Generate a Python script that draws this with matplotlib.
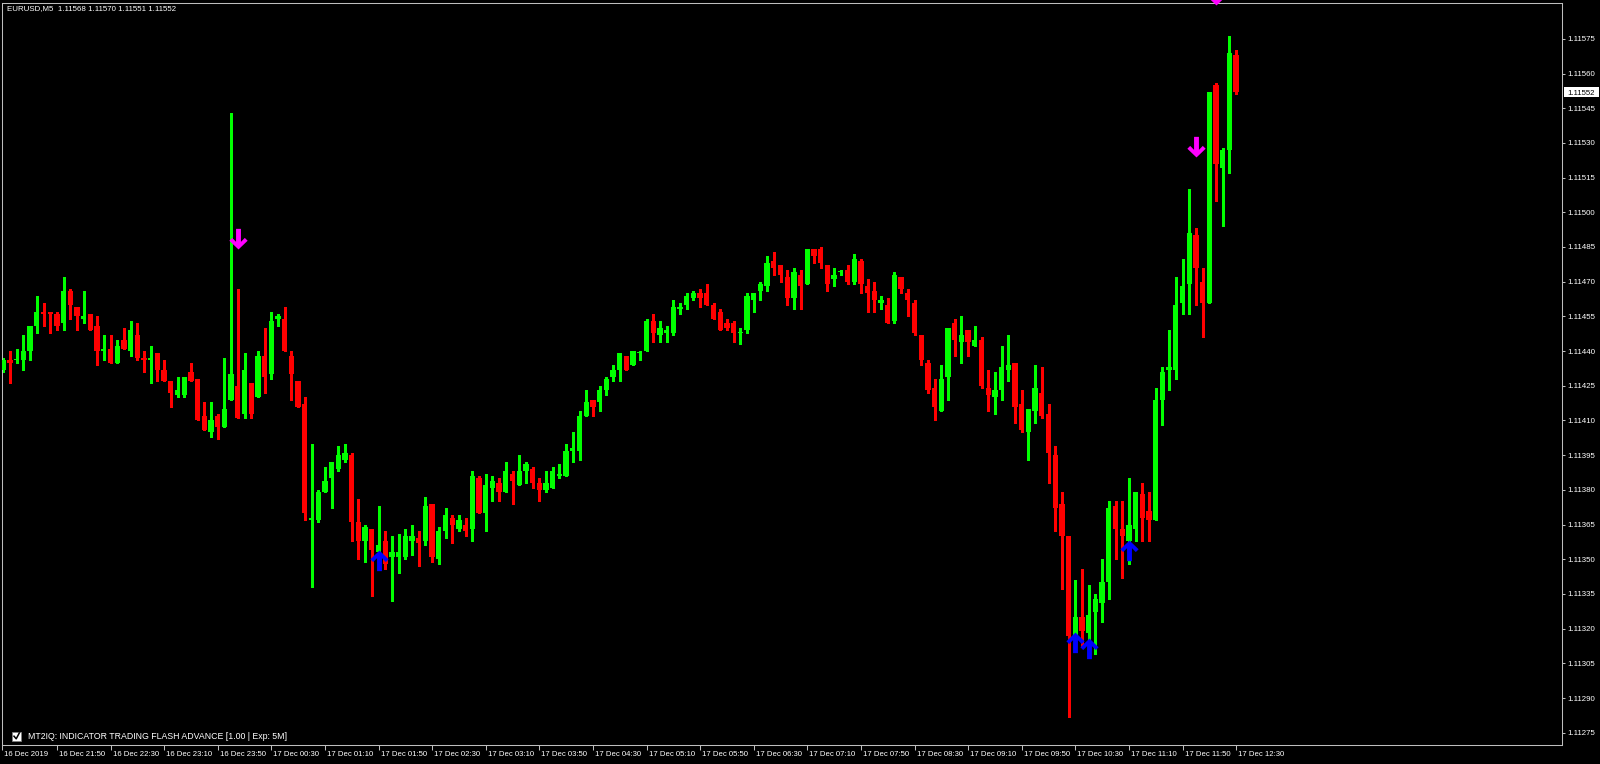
import numpy as np
import matplotlib
matplotlib.use('Agg')
import matplotlib.pyplot as plt
from matplotlib.path import Path
from matplotlib.patches import Rectangle
from matplotlib.lines import Line2D
import matplotlib.transforms as mtransforms

# ---------------- data (EURUSD M5, values in points above 1.11000) ----------------
BASE = 1.11000
PT = 0.00001

open_pts = [432, 436, 436, 436, 440, 451, 457, 457, 456, 452, 466, 459, 454, 456, 451, 440, 441, 435, 445, 440,
            447, 437, 436, 439, 432, 427, 421, 421, 431, 428, 412, 405, 412, 407, 419, 425, 413, 426, 420, 438,
            430, 454, 454, 438, 427, 417, 367, 367, 379, 385, 389, 393, 395, 366, 358, 363, 353, 358, 351, 351,
            351, 358, 359, 358, 374, 350, 362, 368, 363, 365, 363, 385, 370, 381, 383, 379, 387, 382, 388, 389,
            383, 380, 381, 386, 386, 397, 397, 412, 419, 418, 423, 429, 432, 438, 434, 439, 440, 453, 447, 448,
            448, 458, 460, 463, 465, 465, 460, 457, 452, 452, 448, 449, 462, 466, 468, 479, 477, 472, 463, 473,
            469, 484, 484, 477, 471, 474, 475, 470, 479, 468, 466, 461, 460, 453, 472, 465, 461, 447, 435, 424,
            414, 429, 452, 444, 449, 442, 445, 424, 420, 423, 432, 435, 417, 405, 414, 422, 413, 395, 374, 360,
            317, 325, 318, 327, 331, 340, 373, 363, 358, 363, 378, 371, 367, 419, 432, 432, 461, 469, 490, 470,
            461, 555, 519, 527, 568]
high_pts = [437, 440, 441, 447, 451, 464, 461, 457, 457, 472, 467, 459, 466, 456, 455, 447, 447, 445, 450, 453,
            452, 440, 442, 439, 436, 427, 429, 429, 435, 428, 418, 418, 413, 437, 543, 467, 439, 426, 440, 450,
            457, 456, 459, 440, 427, 420, 400, 380, 390, 392, 399, 400, 396, 376, 365, 363, 373, 362, 360, 361,
            363, 365, 362, 377, 374, 364, 372, 369, 369, 368, 388, 386, 387, 386, 385, 392, 388, 395, 392, 390,
            385, 388, 390, 391, 400, 405, 414, 423, 419, 425, 429, 434, 439, 438, 440, 440, 454, 456, 453, 451,
            462, 461, 465, 466, 467, 469, 461, 458, 454, 453, 450, 465, 465, 470, 481, 483, 477, 475, 476, 475,
            484, 484, 485, 477, 476, 475, 477, 482, 480, 471, 470, 464, 463, 474, 472, 467, 462, 447, 436, 428,
            434, 450, 454, 455, 449, 451, 446, 432, 431, 442, 447, 435, 423, 415, 434, 433, 417, 399, 379, 360,
            341, 346, 339, 335, 350, 375, 375, 375, 385, 379, 383, 379, 424, 433, 449, 472, 480, 510, 493, 476,
            552, 556, 528, 576, 570]
low_pts = [431, 426, 435, 432, 436, 448, 451, 448, 449, 449, 454, 449, 452, 449, 434, 436, 435, 435, 441, 438,
           436, 431, 426, 427, 427, 416, 420, 420, 427, 410, 406, 403, 402, 407, 419, 411, 411, 411, 420, 422,
           428, 451, 440, 419, 416, 367, 338, 366, 379, 372, 388, 392, 358, 350, 349, 334, 347, 346, 332, 344,
           350, 352, 347, 356, 349, 348, 359, 357, 362, 360, 358, 370, 362, 375, 375, 379, 374, 382, 383, 381,
           375, 379, 381, 385, 386, 392, 393, 412, 412, 414, 421, 427, 427, 432, 434, 436, 440, 444, 444, 444,
           447, 456, 458, 462, 459, 460, 454, 449, 449, 444, 443, 448, 457, 462, 466, 473, 470, 460, 458, 458,
           469, 478, 476, 466, 468, 473, 469, 469, 465, 457, 457, 458, 452, 452, 465, 455, 447, 434, 422, 410,
           414, 419, 438, 435, 438, 442, 424, 414, 413, 419, 427, 409, 405, 393, 409, 411, 383, 362, 337, 282,
           314, 312, 311, 309, 323, 333, 350, 342, 348, 358, 358, 358, 367, 408, 423, 428, 456, 456, 460, 446,
           461, 505, 494, 517, 551]
close_pts = [436, 435, 436, 440, 451, 457, 456, 456, 451, 466, 460, 455, 455, 449, 440, 441, 435, 442, 441, 449,
             437, 436, 437, 432, 427, 422, 423, 429, 427, 410, 406, 410, 407, 415, 430, 411, 432, 413, 438, 429,
             453, 455, 440, 430, 416, 370, 368, 379, 384, 392, 395, 396, 366, 358, 364, 354, 356, 348, 353, 353,
             360, 360, 357, 373, 351, 362, 369, 365, 367, 362, 386, 370, 382, 384, 379, 388, 384, 388, 391, 383,
             380, 383, 388, 387, 397, 398, 412, 418, 416, 423, 428, 432, 439, 432, 440, 439, 453, 448, 450, 449,
             459, 459, 464, 465, 463, 460, 454, 449, 450, 448, 448, 464, 465, 469, 478, 476, 473, 463, 474, 468,
             484, 481, 478, 469, 473, 474, 470, 480, 469, 465, 462, 462, 452, 473, 467, 462, 448, 436, 423, 416,
             428, 450, 445, 447, 444, 445, 425, 421, 423, 433, 434, 416, 406, 415, 424, 412, 396, 372, 360, 317,
             325, 319, 326, 333, 340, 372, 363, 360, 365, 379, 368, 367, 419, 431, 433, 460, 468, 491, 476, 461,
             552, 521, 527, 569, 552]

opens = BASE + np.array(open_pts) * PT
highs = BASE + np.array(high_pts) * PT
lows = BASE + np.array(low_pts) * PT
closes = BASE + np.array(close_pts) * PT

# signal arrows: (bar index, price level of arrow centre)
sell_bars = [35, 178, 181]
sell_levels = [1.114889, 1.115288, 1.115942]
buy_bars = [56, 160, 162, 168]
buy_levels = [1.113493, 1.113140, 1.113114, 1.113536]

tick_bars = [-0.15, 8, 16, 24, 32, 40, 48, 56, 64, 72, 80, 88, 96, 104, 112, 120, 128, 136, 144, 152,
             160, 168, 176, 184]
tick_labels = ["16 Dec 2019", "16 Dec 21:50", "16 Dec 22:30", "16 Dec 23:10", "16 Dec 23:50",
               "17 Dec 00:30", "17 Dec 01:10", "17 Dec 01:50", "17 Dec 02:30", "17 Dec 03:10",
               "17 Dec 03:50", "17 Dec 04:30", "17 Dec 05:10", "17 Dec 05:50", "17 Dec 06:30",
               "17 Dec 07:10", "17 Dec 07:50", "17 Dec 08:30", "17 Dec 09:10", "17 Dec 09:50",
               "17 Dec 10:30", "17 Dec 11:10", "17 Dec 11:50", "17 Dec 12:30"]
price_ticks = [1.11275, 1.11290, 1.11305, 1.11320, 1.11335, 1.11350, 1.11365, 1.11380, 1.11395, 1.11410,
               1.11425, 1.11440, 1.11455, 1.11470, 1.11485, 1.11500, 1.11515, 1.11530, 1.11545, 1.11560,
               1.11575]
header = "EURUSD,M5  1.11568 1.11570 1.11551 1.11552"
footer = "MT2IQ: INDICATOR TRADING FLASH ADVANCE [1.00 | Exp: 5M]"
last_price = 1.11552

# ---------------- figure ----------------
FONT = 'Liberation Sans'
W, H = 1600, 764
fig = plt.figure(figsize=(W / 100, H / 100), dpi=100, facecolor='black')
ax = fig.add_axes([2 / W, (H - 745) / H, 1560 / W, 742 / H], facecolor='black')

idx = np.arange(len(opens))
bull = closes >= opens
cols = np.where(bull, '#00FF00', '#FF0000')

ax.vlines(idx, lows, highs, colors=cols, linewidth=0.75, antialiased=False, zorder=2)
bottoms = np.minimum(opens, closes)
heights = np.maximum(np.abs(closes - opens), 0.0000045)
ax.bar(idx, heights, bottom=bottoms, width=0.78, color=cols, linewidth=0, antialiased=False, zorder=3)

# arrow markers (thick stem + chevron head)
down_v = [(-2.4, 9.5), (2.4, 9.5), (2.4, -3.3), (6.2, 0.6), (9.0, -2.2), (0, -10.8), (-9.0, -2.2),
          (-6.2, 0.6), (-2.4, -3.3), (-2.4, 9.5)]
codes = [Path.MOVETO] + [Path.LINETO] * 8 + [Path.CLOSEPOLY]
down_path = Path(down_v, codes)
up_path = Path([(x, -y) for x, y in down_v], codes)
ax.plot(sell_bars, sell_levels, linestyle='none', marker=down_path, markersize=15.8,
        color='#FF00FF', markeredgewidth=0, clip_on=False, zorder=5)
ax.plot(buy_bars, buy_levels, linestyle='none', marker=up_path, markersize=15.8,
        color='#0000FF', markeredgewidth=0, zorder=5)

# limits (pixel-calibrated)
ax.set_xlim(-0.194, 232.64)
ax.set_ylim(BASE + 269.7 * PT, BASE + 590.48 * PT)

# spines
for s in ax.spines.values():
    s.set_color('#BEBEBE')
    s.set_linewidth(0.75)

# y axis on right
ax.yaxis.tick_right()
ax.set_yticks(price_ticks)
ax.set_yticklabels([f"{p:.5f}" for p in price_ticks])
ax.tick_params(axis='y', direction='out', length=2.4, width=0.75, color='#BEBEBE',
               labelcolor='white', labelsize=5.7, pad=1.5)
for lab in ax.get_yticklabels():
    lab.set_fontfamily(FONT)

# x axis
ax.set_xticks(tick_bars)
ax.set_xticklabels(tick_labels)
ax.tick_params(axis='x', direction='out', length=3.3, width=0.75, color='#BEBEBE',
               labelcolor='white', labelsize=5.6, pad=1.0)
offset = mtransforms.ScaledTranslation(2 / 100, 0, fig.dpi_scale_trans)
for lab in ax.get_xticklabels():
    lab.set_fontfamily(FONT)
    lab.set_horizontalalignment('left')
    lab.set_transform(lab.get_transform() + offset)

# current price box
trans = mtransforms.blended_transform_factory(fig.transFigure, ax.transData)
ax.add_patch(Rectangle((1564 / W, last_price - 2.1 * PT), 35 / W, 4.2 * PT, transform=trans,
                       facecolor='white', edgecolor='none', clip_on=False, zorder=6))
ax.text(1567.5 / W, last_price, f"{last_price:.5f}", transform=trans, color='black',
        fontsize=5.6, family=FONT, ha='left', va='center_baseline', clip_on=False, zorder=7)

# header text
fig.text(6.7 / W, 1 - 9 / H, header, color='white', fontsize=5.7, family=FONT,
         ha='left', va='center')

# checkbox + footer
fig.patches.append(Rectangle((12.0 / W, (H - 741) / H), 9 / W, 9 / H, transform=fig.transFigure,
                             facecolor='white', edgecolor='#808080', linewidth=0.6, figure=fig))
fig.lines.append(Line2D([14.0 / W, 16.2 / W, 19.3 / W],
                        [(H - 736.2) / H, (H - 738.8) / H, (H - 733.0) / H],
                        transform=fig.transFigure, color='black', linewidth=1.1, figure=fig))
fig.text(28.3 / W, 1 - 736.7 / H, footer, color='white', fontsize=6.3, family=FONT,
         ha='left', va='center')

fig.savefig('out.png', dpi=100, facecolor='black')
